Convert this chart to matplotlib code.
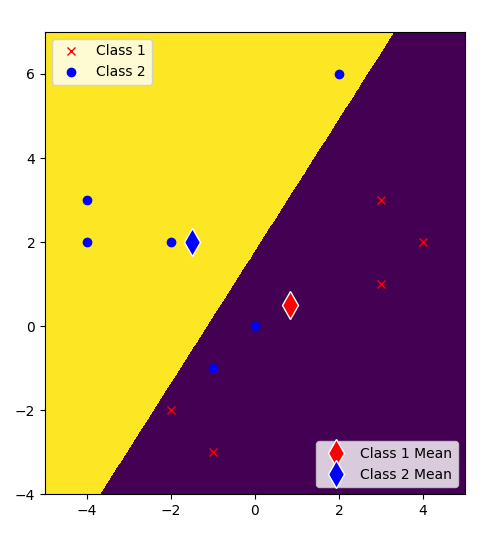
import numpy as np
import matplotlib
matplotlib.use("Agg")
import matplotlib.pyplot as plt

class1_x = [3, 4, 3, -2, -1]
class1_y = [3, 2, 1, -2, -3]
class2_x = [-4, -4, -2, 0, -1, 2]
class2_y = [3, 2, 2, 0, -1, 6]
mean1 = (0.83, 0.5)
mean2 = (-1.5, 2.0)
# decision boundary passes through these two points
b_p1 = (-3.7, -4.0)
b_p2 = (3.3, 7.0)

fig = plt.figure(figsize=(5, 5.33), dpi=100)
ax = fig.add_axes([0.09, 0.073, 0.84, 0.867])
xx, yy = np.meshgrid(np.linspace(-5, 5, 600), np.linspace(-4, 7, 600))
dx, dy = b_p2[0] - b_p1[0], b_p2[1] - b_p1[1]
z = (dx * (yy - b_p1[1]) - dy * (xx - b_p1[0])) > 0
ax.contourf(xx, yy, z.astype(float), levels=[-0.5, 0.5, 1.5], colors=["#440154", "#fde725"])

h1, = ax.plot(class1_x, class1_y, "rx", label="Class 1")
h2, = ax.plot(class2_x, class2_y, "bo", label="Class 2")
m1, = ax.plot([mean1[0]], [mean1[1]], "rd", markersize=14, markeredgecolor="white", label="Class 1 Mean")
m2, = ax.plot([mean2[0]], [mean2[1]], "bd", markersize=14, markeredgecolor="white", label="Class 2 Mean")
ax.set_xlim(-5, 5)
ax.set_ylim(-4, 7)
ax.set_xticks([-4, -2, 0, 2, 4])
leg1 = ax.legend(handles=[h1, h2], loc="upper left")
ax.add_artist(leg1)
ax.legend(handles=[m1, m2], loc="lower right")
fig.savefig("out.png")
